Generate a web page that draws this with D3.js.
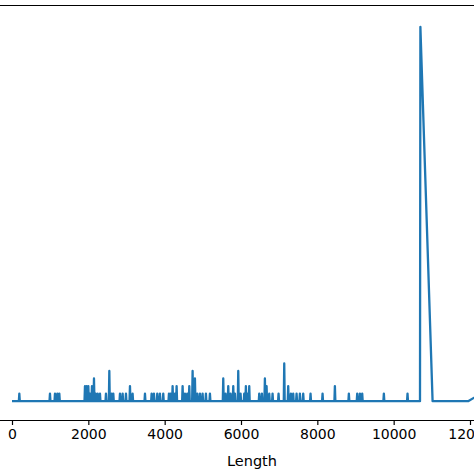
<!DOCTYPE html><html><head><script src="https://cdn.jsdelivr.net/npm/d3@7"></script>
<style>body{margin:0;background:#fff}text{font-family:"DejaVu Sans";}</style></head><body>
<script>
const spikeLengths=[192,995,1126,1188,1240,1912,1956,2000,2043,2095,2148,2191,2244,2305,2462,2550,2610,2654,2829,2899,2986,3091,3160,3484,3658,3719,3806,3876,3963,4112,4156,4208,4269,4313,4470,4531,4592,4645,4732,4793,4854,4924,4994,5081,5186,5535,5596,5666,5727,5797,5841,5928,5989,6085,6128,6163,6216,6478,6548,6626,6670,6740,6827,6984,7133,7237,7307,7368,7456,7543,7630,7822,8137,8460,8826,9045,9115,9176,9743,10363];
const spikeCounts=[1,1,1,1,1,2,2,2,1,2,3,1,1,1,1,4,1,1,1,1,1,2,1,1,1,1,1,1,1,1,1,2,1,2,2,1,1,2,4,3,1,1,1,1,1,3,1,2,1,2,1,4,1,1,2,1,2,1,1,3,2,1,1,1,5,2,1,1,1,1,1,1,1,2,1,1,1,1,1,1];
const peakPoints=[[0,0],[10690,0],[10700,49.6],[11020,0],[11950,0],[12300,1]];
const xTicks=[0,2000,4000,6000,8000,10000,12000];
let pts=peakPoints.slice();
spikeLengths.forEach((L,i)=>{pts.push([L-12,0],[L,spikeCounts[i]],[L+12,0]);});
pts.sort((a,b)=>a[0]-b[0]);
const W=474,H=474;
const svg=d3.select("body").append("svg").attr("width",W).attr("height",H);
const x=d3.scaleLinear().domain([0,12000]).range([12,470]);
const y=d3.scaleLinear().domain([-2.5,52.5]).range([420,5]);
svg.append("defs").append("clipPath").attr("id","c").append("rect").attr("x",0).attr("y",5).attr("width",W).attr("height",415);
svg.append("path").datum(pts).attr("clip-path","url(#c)").attr("fill","none").attr("stroke","#1f77b4").attr("stroke-width",2.3)
 .attr("stroke-linejoin","round").attr("d",d3.line().x(d=>x(d[0])).y(d=>y(d[1])));
svg.append("line").attr("x1",0).attr("x2",W).attr("y1",5.5).attr("y2",5.5).attr("stroke","#000").attr("stroke-width",1.2);
const ax=svg.append("g").attr("transform","translate(0,420)").call(d3.axisBottom(x).tickValues(xTicks).tickFormat(d3.format("d")).tickSize(5).tickPadding(4));
ax.select(".domain").attr("d",`M0,0.5H${W}`).attr("stroke-width",1.2);
ax.selectAll("text").attr("font-size",14).attr("fill","#000");
ax.selectAll("line").attr("stroke-width",1.2);
svg.append("text").attr("x",252).attr("y",466).attr("text-anchor","middle").attr("font-size",14.5).text("Length");
</script></body></html>
